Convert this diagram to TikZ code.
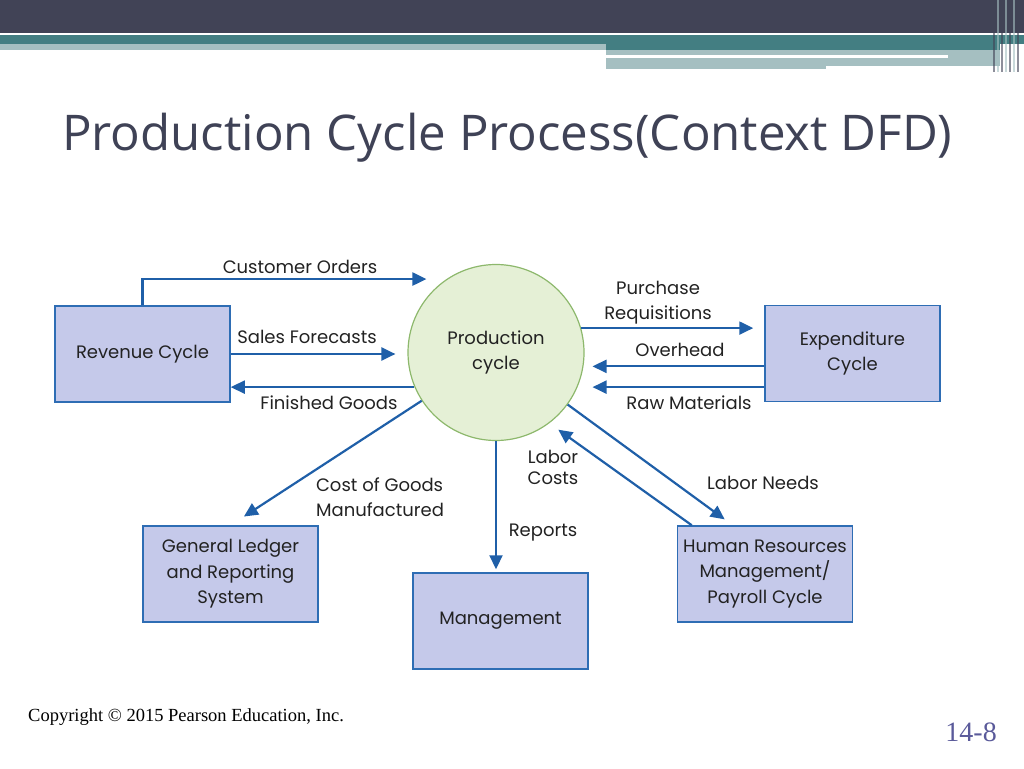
\documentclass[tikz,border=0pt]{standalone}
\usepackage{fontspec}
\setmainfont{Liberation Serif}
\newfontfamily\titlefont{Open Sans}
\newfontfamily\diafont{Poppins}
\usetikzlibrary{arrows.meta,calc}
\definecolor{banddark}{HTML}{414356}
\definecolor{bandteal}{HTML}{437E82}
\definecolor{bandlight}{HTML}{A5BFC1}
\definecolor{titlecol}{HTML}{3F4256}
\definecolor{boxfill}{HTML}{C5C9EA}
\definecolor{boxline}{HTML}{2E6DB4}
\definecolor{circfill}{HTML}{E5F0D6}
\definecolor{circline}{HTML}{8DB86C}
\definecolor{arrcol}{HTML}{1F5FA8}
\definecolor{txtcol}{HTML}{222222}
\definecolor{pagecol}{HTML}{5A5A9A}
\tikzset{
  entity/.style={draw=boxline, line width=1.5pt, fill=boxfill, minimum width=175pt, minimum height=96pt, align=center, font=\diafont\fontsize{18}{25.5}\selectfont, text=txtcol, inner sep=0pt},
  proc/.style={circle, draw=circline, line width=1.2pt, fill=circfill, minimum size=176pt, align=center, font=\diafont\fontsize{18}{25}\selectfont, text=txtcol, inner sep=0pt},
  arr/.style={draw=arrcol, line width=2.2pt, -{Triangle[length=14pt,width=13pt]}},
  lbl/.style={font=\diafont\fontsize{18}{25}\selectfont, text=txtcol, align=center, inner sep=0pt},
}
\begin{document}
\begin{tikzpicture}[x=1pt,y=-1pt]
\useasboundingbox (0,0) rectangle (1024,768);
% banner
\fill[banddark] (0,0) rectangle (1024,33);
\fill[bandteal] (0,35) rectangle (1024,44);
\fill[bandlight] (0,44) rectangle (606,50);
\fill[bandteal] (606,44) rectangle (1000,50);
\fill[bandlight] (606,50) rectangle (1000,55);
\fill[bandlight] (606,58) rectangle (826,69);
\fill[bandlight] (826,58) rectangle (1000,66);
\fill[bandlight] (948,55) rectangle (1000,58);
\foreach \xx/\cc in {993/banddark,997/bandlight,1001/banddark,1005/bandlight,1009/banddark,1013/bandlight,1017/banddark}
  \fill[\cc, opacity=0.6] (\xx,0) rectangle ++(2,72);
% title
\node[anchor=base west, font=\titlefont\fontsize{49.2}{60}\selectfont, text=titlecol, inner sep=0pt] (title) at (62,150) {Production Cycle Process(Context DFD)};
% nodes
\node[proc] (prod) at (496,352.5) {Production\\cycle};
\node[entity] (rev) at (142.5,354) {Revenue Cycle};
\node[entity] (exp) at (852.5,353.5) {Expenditure\\Cycle};
\node[entity] (gl) at (230.5,574) {General Ledger\\and Reporting\\System};
\node[entity] (mgmt) at (500.5,621) {Management};
\node[entity] (hr) at (765,574) {Human Resources\\Management/\\Payroll Cycle};
\coordinate (hrA) at ($(hr.north west)+(15,0)$);
\coordinate (hrB) at ($(hr.north west)+(56,0)$);
% connectors
\draw[arr, shorten >=20pt] (rev.north) |- (prod.124.1);
\draw[arr, shorten >=12pt] (rev.east) -- (prod.west |- rev.east);
\draw[arr] (prod.203.7) -- (rev.east |- prod.203.7);
\draw[arr, shorten >=11pt] (prod.16.7) -- (exp.west |- prod.16.7);
\draw[arr, shorten >=9pt] (exp.west |- prod.-9.3) -- (prod.-9.3);
\draw[arr, shorten >=15pt] (exp.west |- prod.-23) -- (prod.-23);
\draw[arr, shorten >=16pt] (prod.213.3) -- (gl.north);
\draw[arr, shorten >=3pt] (prod.south) -- (prod.south |- mgmt.north);
\draw[arr, shorten >=11pt] (hrA) -- (prod.-53.1);
\draw[arr, shorten >=10pt] (prod.-36.4) -- (hrB);
% labels
\node[lbl] (l1) at (300,267) {Customer Orders};
\node[lbl] (l2) at (307,337) {Sales Forecasts};
\node[lbl] (l3) at (329,403) {Finished Goods};
\node[lbl] (l4) at (658,303) {Purchase\\Requisitions};
\node[lbl] (l5) at (680,350) {Overhead};
\node[lbl] (l6) at (689,403) {Raw Materials};
\node[lbl, align=left] (l7) at (380,497) {Cost of Goods\\Manufactured};
\node[lbl] (l8) at (543,533) {Reports};
\node[lbl, font=\diafont\fontsize{18}{21}\selectfont] (l9) at (553,467) {Labor\\Costs};
\node[lbl] (l10) at (763,483) {Labor Needs};
% footer
\node[anchor=base west, font=\fontsize{18.5}{22}\selectfont, inner sep=0pt] (copy) at (28,721) {Copyright \textcopyright{} 2015 Pearson Education, Inc.};
\node[anchor=base east, font=\fontsize{28}{32}\selectfont, text=pagecol, inner sep=0pt] (pg) at (997,741) {14-8};
\end{tikzpicture}
\end{document}
